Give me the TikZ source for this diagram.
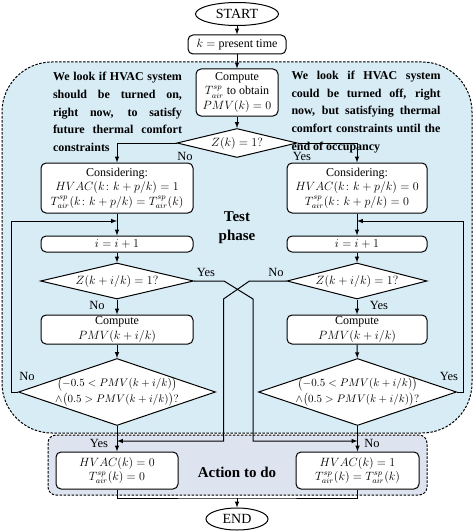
\documentclass[tikz,border=0pt]{standalone}
\usepackage{amsmath}
\usepackage{fontspec}
\setmainfont{Liberation Serif}
\usetikzlibrary{shapes.geometric,positioning,calc}

\definecolor{testblue}{RGB}{216,236,246}
\definecolor{actgray}{RGB}{221,228,240}

\tikzset{
  box/.style={draw, rounded corners=5pt, fill=white, line width=1pt, align=center,
    inner sep=1pt, font=\fontsize{12}{14.5}\selectfont},
  term/.style={draw, ellipse, fill=white, line width=1pt, inner sep=0pt,
    font=\fontsize{14}{16}\selectfont},
  cond/.style={draw, diamond, fill=white, line width=1pt, inner sep=0pt},
  condtxt/.style={align=center, inner sep=0pt, font=\fontsize{12}{15}\selectfont},
  smalltxt/.style={align=center, inner sep=0pt, font=\fontsize{11}{15.5}\selectfont},
  region/.style={draw, line width=1pt, dash pattern=on 2.5pt off 1.5pt},
  note/.style={text width=#1, align=justify, inner sep=0pt,
    font=\bfseries\fontsize{12}{17.75}\selectfont},
  phase/.style={align=center, font=\bfseries\fontsize{15}{19}\selectfont},
  lbl/.style={inner sep=0pt, font=\fontsize{12.5}{14}\selectfont},
  flow/.style={->, line width=1pt}
}

\begin{document}
\begin{tikzpicture}[x=1pt, y=-1pt, >=latex]
    \useasboundingbox (0,0) rectangle (474,532);
    % zones
    \draw[region, fill=testblue, rounded corners=50pt] (2,62) rectangle (472,433);
    \draw[region, fill=actgray, rounded corners=8pt] (48,435) rectangle (427,495);

    \node[term, minimum width=83pt, minimum height=23pt] (start) at (237,14) {START};
    \node[box, minimum width=98pt, minimum height=19pt] (now) at (237,44.5) {$k=$ present time};
    \node[box, minimum width=82pt, minimum height=47pt] (comp) at (237,92.5)
      {Compute\\$T_{air}^{sp}$ to obtain\\$PMV(k)=0$};
    \node[cond, minimum width=120pt, minimum height=29pt,
      label={[condtxt]center:$Z(k)=1?$}] (z0) at (237,143) {};

    \node[note=129pt] (whyon) at (117.5,112) {We look if HVAC system\linebreak
      should be turned on,\linebreak right now, to satisfy\linebreak
      future thermal comfort\linebreak constraints};
    \node[note=149pt] (whyoff) at (366,112) {We look if HVAC system\linebreak
      could be turned off, right\linebreak now, but satisfying thermal\linebreak
      comfort constraints until the\linebreak end of occupancy};

    % left branch
    \node[box, minimum width=152pt, minimum height=50pt] (consL) at (117,188)
      {Considering:\\$HVAC(k\colon k+p/k)=1$\\$T_{air}^{sp}(k\colon k+p/k)=T_{air}^{sp}(k)$};
    \node[box, minimum width=152pt, minimum height=16pt] (incL) at (117,244) {$i=i+1$};
    \node[cond, minimum width=153pt, minimum height=36pt,
      label={[condtxt]center:$Z(k+i/k)=1?$}] (zL) at (117,281) {};
    \node[box, minimum width=152pt, minimum height=29pt] (pmvL) at (117,329.5)
      {Compute\\$PMV(k+i/k)$};
    \node[cond, minimum width=197pt, minimum height=67pt,
      label={[smalltxt]center:$\bigl(-0.5<PMV(k+i/k)\bigr)$\\$\land\bigl(0.5>PMV(k+i/k)\bigr)?$}]
      (thL) at (117,392) {};
    \node[box, minimum width=122pt, minimum height=37pt] (actL) at (117,470.5)
      {$HVAC(k)=0$\\$T_{air}^{sp}(k)=0$};

    % right branch
    \node[box, minimum width=140pt, minimum height=50pt] (consR) at (357,188)
      {Considering:\\$HVAC(k\colon k+p/k)=0$\\$T_{air}^{sp}(k\colon k+p/k)=0$};
    \node[box, minimum width=140pt, minimum height=16pt] (incR) at (357,244) {$i=i+1$};
    \node[cond, minimum width=140pt, minimum height=36pt,
      label={[condtxt]center:$Z(k+i/k)=1?$}] (zR) at (357,281) {};
    \node[box, minimum width=140pt, minimum height=29pt] (pmvR) at (357,329.5)
      {Compute\\$PMV(k+i/k)$};
    \node[cond, minimum width=198pt, minimum height=67pt,
      label={[smalltxt]center:$\bigl(-0.5<PMV(k+i/k)\bigr)$\\$\land\bigl(0.5>PMV(k+i/k)\bigr)?$}]
      (thR) at (357.5,392) {};
    \node[box, minimum width=123pt, minimum height=37pt] (actR) at (357.5,470.5)
      {$HVAC(k)=1$\\$T_{air}^{sp}(k)=T_{air}^{sp}(k)$};

    \node[term, minimum width=62pt, minimum height=22pt] (end) at (237,519) {END};

    \node[phase] (test) at (237,228) {Test\\phase};
    \node[phase] (todo) at (237,472) {Action to do};

    \coordinate (backL) at (117,221);
    \coordinate (backR) at (357,221);
    \coordinate (toOff) at (117,441);
    \coordinate (toOn) at (357.5,441);
    \coordinate (merge) at (237,498);

    \draw[flow] (start) -- (now);
    \draw[flow] (now) -- (comp);
    \draw[flow] (comp) -- (z0);
    \draw[flow] (z0.west) -| (consL.north);
    \draw[flow] (z0.east) -| (consR.north);

    \draw[flow] (consL) -- (incL);
    \draw[flow] (incL) -- (zL);
    \draw[flow] (zL) -- (pmvL);
    \draw[flow] (pmvL) -- (thL);
    \draw[flow] (thL) -- (actL);
    \draw[flow] (thL.west) -- ++(-7,0) |- (backL);

    \draw[flow] (consR) -- (incR);
    \draw[flow] (incR) -- (zR);
    \draw[flow] (zR) -- (pmvR);
    \draw[flow] (pmvR) -- (thR);
    \draw[flow] (thR) -- (actR);
    \draw[flow] (thR.east) -- ++(6,0) |- (backR);

    \draw[flow] (zL.east) -- ++(30,0) -- ++(29,18) |- (toOn);
    \draw[flow] (zR.west) -- ++(-37,0) -- ++(-26,18) |- (toOff);

    \draw[line width=1pt] (actL.south) |- (merge) -| (actR.south);
    \draw[flow] (merge) -- (end);

    \node[lbl] at (185,156) {No};
    \node[lbl] at (302,156) {Yes};
    \node[lbl] at (206,272) {Yes};
    \node[lbl] at (276,272) {No};
    \node[lbl] at (97,305) {No};
    \node[lbl] at (379,305) {Yes};
    \node[lbl] at (27,376) {No};
    \node[lbl] at (449,376) {Yes};
    \node[lbl] at (99,443) {Yes};
    \node[lbl] at (372,443) {No};
\end{tikzpicture}
\end{document}
